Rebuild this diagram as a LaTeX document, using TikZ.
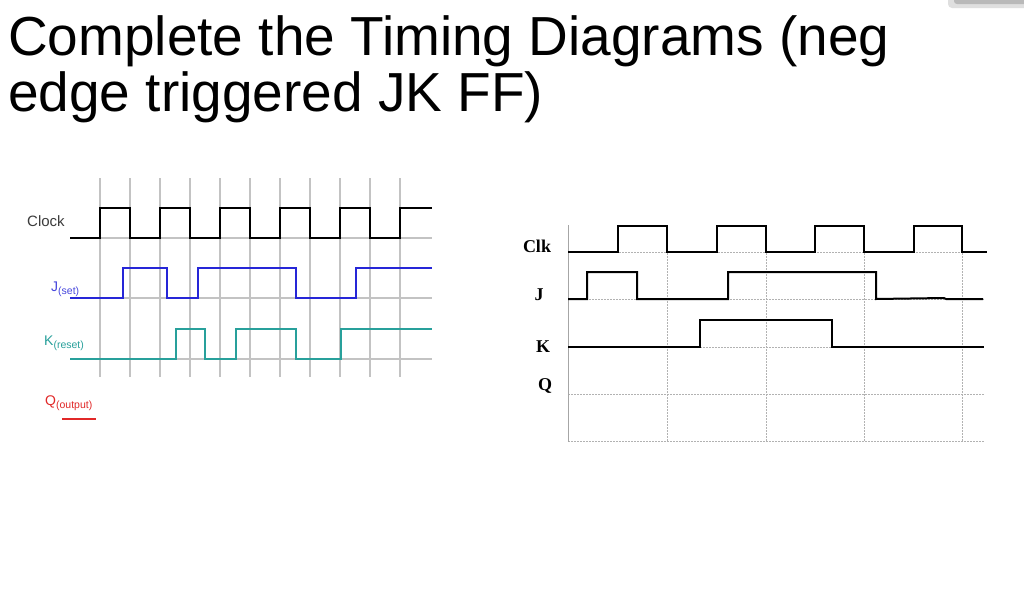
\documentclass[tikz,border=0pt]{standalone}
\usepackage{fontspec}
\setmainfont{Liberation Sans}
\newfontfamily\tnr{Liberation Serif}
\definecolor{jblue}{RGB}{38,38,215}
\definecolor{kteal}{RGB}{40,160,155}
\definecolor{qred}{RGB}{225,40,40}
\definecolor{gridg}{RGB}{195,195,195}
\definecolor{lblg}{RGB}{60,60,60}
\tikzset{
  sig/.style={line width=2pt, line join=miter},
  lgrid/.style={gridg, line width=1.6pt},
  rdot/.style={gray!60, line width=0.8pt, dash pattern=on 1.5pt off 1.5pt},
  rsig/.style={black, line width=2pt, line join=miter},
  rlbl/.style={anchor=base, inner sep=0, font=\tnr\bfseries\fontsize{18}{18}\selectfont},
  title/.style={anchor=base west, inner sep=0, font=\fontsize{55}{55}\selectfont},
  llbl/.style={anchor=base west, inner sep=0, font=\fontsize{14}{14}\selectfont},
}
\newcommand{\subtxt}[1]{\raisebox{-3.5pt}{\fontsize{10.5}{10.5}\selectfont #1}}
\begin{document}
\begin{tikzpicture}[x=1pt,y=-1pt]
\useasboundingbox (0,0) rectangle (1024,597);
\fill[white] (0,0) rectangle (1024,597);
% shadow top right
\fill[gray!25, rounded corners=4] (948,-6) rectangle (1030,8);
\fill[gray!55, rounded corners=3] (954,-6) rectangle (1030,4);
% title
\node[title] (t1) at (8,55) {Complete the Timing Diagrams (neg};
\node[title] (t2) at (8,111) {edge triggered JK FF)};
% ---------- left diagram ----------
\foreach \x in {100,130,...,400} \draw[lgrid] (\x,178) -- (\x,377);
\foreach \y in {238,298,359} \draw[lgrid] (70,\y) -- (432,\y);
\draw[sig, black] (70,238) -- (100,238) -- (100,208) -- (130,208) -- (130,238) -- (160,238) -- (160,208) -- (190,208) -- (190,238) -- (220,238) -- (220,208) -- (250,208) -- (250,238) -- (280,238) -- (280,208) -- (310,208) -- (310,238) -- (340,238) -- (340,208) -- (370,208) -- (370,238) -- (400,238) -- (400,208) -- (432,208);
\draw[sig, jblue] (70,298) -- (122.7,298) -- (122.7,268) -- (167,268) -- (167,298) -- (198,298) -- (198,268) -- (296,268) -- (296,298) -- (356,298) -- (356,268) -- (432,268);
\draw[sig, kteal] (70,359) -- (176,359) -- (176,329) -- (205,329) -- (205,359) -- (236,359) -- (236,329) -- (296,329) -- (296,359) -- (341,359) -- (341,329) -- (432,329);
\node[anchor=base west, inner sep=0, text=lblg, font=\fontsize{15}{15}\selectfont] (clk) at (27,226) {Clock};
\node[llbl, text=jblue!85] (jl) at (51,291) {J\subtxt{(set)}};
\node[llbl, text=kteal] (kl) at (44,345) {K\subtxt{(reset)}};
\node[llbl, text=qred] (ql) at (45,405) {Q\subtxt{(output)}};
\draw[qred, line width=1.6pt] (62,419) -- (96,419);
% ---------- right diagram ----------
\foreach \x in {667,766,864,962} \draw[rdot] (\x,226) -- (\x,442);
\foreach \y in {252,299,347,394,441} \draw[rdot] (568,\y) -- (985,\y);
\draw[gray!70, line width=1pt] (568,225) -- (568,442);
\draw[rsig] (568,252) -- (618,252) -- (618,226) -- (667,226) -- (667,252) -- (717,252) -- (717,226) -- (766,226) -- (766,252) -- (815,252) -- (815,226) -- (864,226) -- (864,252) -- (914,252) -- (914,226) -- (962,226) -- (962,252) -- (987,252);
\draw[rsig] (568,299) -- (587,299) -- (587,272) -- (637,272) -- (637,299) -- (728,299) -- (728,272) -- (876,272) -- (876,299) -- (944,298) -- (946,299) -- (983,299);
\draw[rsig] (568,347) -- (700,347) -- (700,320) -- (832,320) -- (832,347) -- (984,347);
\node[rlbl] (rclk) at (537,252) {Clk};
\node[rlbl] (rj) at (539,300) {J};
\node[rlbl] (rk) at (543,352) {K};
\node[rlbl] (rq) at (545,390) {Q};
\end{tikzpicture}
\end{document}
